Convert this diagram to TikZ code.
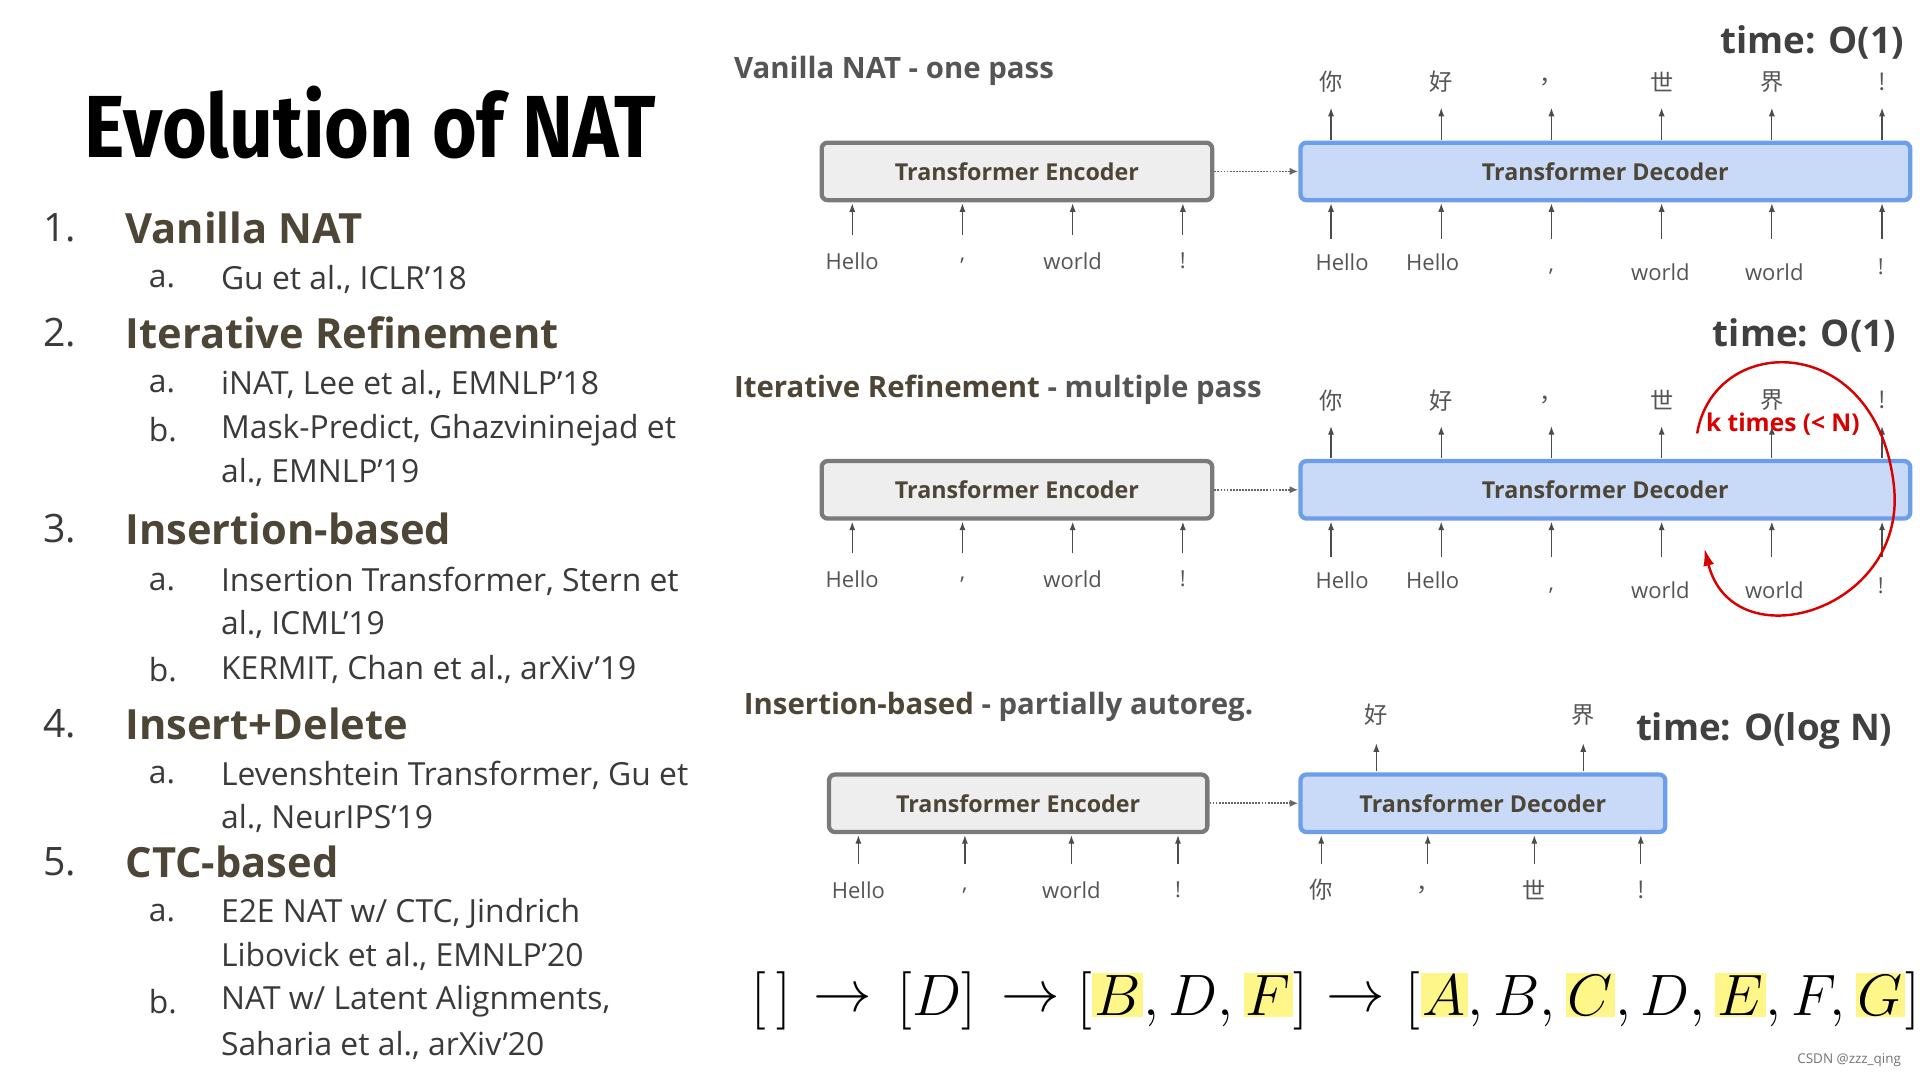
\documentclass[tikz,border=0pt]{standalone}
\usepackage{fontspec}
\setmainfont{Open Sans}
\newfontfamily\cjk{Noto Sans CJK SC}
\newfontfamily\titlef{Fira Sans}
\usetikzlibrary{arrows.meta}
\definecolor{headc}{HTML}{4D4535}
\definecolor{subc}{HTML}{3A3A3A}
\definecolor{grayt}{HTML}{555555}
\definecolor{encf}{HTML}{EEEEEE}
\definecolor{encd}{HTML}{7A7A7A}
\definecolor{decf}{HTML}{C9DAF8}
\definecolor{decd}{HTML}{6D9EEB}
\definecolor{hly}{HTML}{FFF68A}
\newcommand{\hlx}[1]{{\setlength{\fboxsep}{0.8pt}\colorbox{hly}{$#1$}}}
\begin{document}
\begin{tikzpicture}[x=1pt,y=-1pt,
  head/.style={anchor=west,font=\fontsize{34}{36}\selectfont\bfseries,text=headc},
  num/.style={anchor=west,font=\fontsize{32}{34}\selectfont,text=subc},
  sub/.style={anchor=west,font=\fontsize{26}{28}\selectfont,text=subc},
  enc/.style={draw=encd,fill=encf,line width=3.5pt,rounded corners=5pt,text=headc,font=\fontsize{19}{22}\selectfont\bfseries},
  dec/.style={draw=decd,fill=decf,line width=3.5pt,rounded corners=5pt,text=headc,font=\fontsize{19}{22}\selectfont\bfseries},
  lab/.style={font=\fontsize{18}{20}\selectfont,text=grayt},
  zh/.style={font=\cjk\fontsize{19}{20}\selectfont,text=grayt},
  arr/.style={-{Latex[length=7pt,width=5pt]},line width=1pt,draw=black!70},
  dots/.style={densely dotted,line width=1.5pt,draw=black!60,-{Latex[length=7pt,width=6pt]}},
  ptitle/.style={anchor=west,font=\fontsize{24}{26}\selectfont\bfseries,text=grayt},
  tm/.style={anchor=east,font=\fontsize{30}{32}\selectfont\bfseries,text=black!75},
  mth/.style={scale=2.3,font=\fontsize{20}{22}\selectfont}]
\useasboundingbox (0,0) rectangle (1568,880);
\fill[white] (0,0) rectangle (1568,880);
% left
\node[anchor=west,font=\titlef\fontsize{72}{74}\selectfont\bfseries,xscale=0.87] (title) at (66,100) {Evolution of NAT};
\foreach \n/\y/\t in {1/186/Vanilla NAT,2/272/Iterative Refinement,3/432/Insertion-based,4/591/Insert+Delete,5/704/CTC-based}{
  \node[num] (n\n) at (32,\y) {\n.};
  \node[head] (h\n) at (99,\y) {\t};}
\foreach \l/\y/\t [count=\i] in {a/228/{Gu et al., ICLR’18},a/314/{iNAT, Lee et al., EMNLP’18},b/351/{Mask-Predict, Ghazvininejad et},{}/386/{al., EMNLP’19},a/475/{Insertion Transformer, Stern et},{}/510/{al., ICML’19},b/547/{KERMIT, Chan et al., arXiv’19},a/633/{Levenshtein Transformer, Gu et},{}/668/{al., NeurIPS’19},a/746/{E2E NAT w/ CTC, Jindrich},{}/781/{Libovick et al., EMNLP’20},b/818/{NAT w/ Latent Alignments,},{}/854/{Saharia et al., arXiv’20}}{
  \node[sub] (s\i) at (177,\y) {\t};
  \node[sub] (l\i) at (118,\y) {\l\ifx\l\empty\else.\fi};}
% panel 1 and 2
\foreach \p/\dy in {1/0,2/260}{
  \node[enc,minimum width=319pt,minimum height=47pt] (enc\p) at (830.5,140+\dy) {Transformer Encoder};
  \node[dec,minimum width=498pt,minimum height=47pt] (dec\p) at (1311,140+\dy) {Transformer Decoder};
  \draw[dots] (enc\p.east) -- (dec\p.west);
  \foreach \x/\t [count=\k] in {696/Hello,786/{,},876/world,966/!}{
    \node[lab] (ei\p\k) at (\x,213+\dy) {\t};
    \draw[arr] (\x,192+\dy) -- (\x,166+\dy);}
  \foreach \x/\lx/\ly/\t [count=\k] in {1087/1096/214/Hello,1177/1170/214/Hello,1267/1267/222/{,},1357/1356/222/world,1447/1449/222/world,1537/1536/218/!}{
    \node[lab] (di\p\k) at (\lx,\ly+\dy) {\t};
    \draw[arr] (\x,195+\dy) -- (\x,166+\dy);}
  \foreach \x/\t [count=\k] in {1087/你,1177/好,1267/，,1357/世,1447/界,1537/!}{
    \node[zh] (do\p\k) at (\x,67+\dy) {\t};
    \draw[arr] (\x,114+\dy) -- (\x,88+\dy);}
}
\node[ptitle] (t1) at (596,58) {Vanilla NAT - one pass};
\node[tm] (tm1) at (1558,35) {time: O(1)};
\node[ptitle] (t2) at (596,318) {\textcolor{headc}{Iterative Refinement} - multiple pass};
\node[tm] (tm2) at (1552,274) {time: O(1)};
\coordinate (lp0) at (1386,354);
\coordinate (lp1) at (1392,448);
\draw[red!85!black,line width=2pt,-{Latex[length=14pt,width=9pt]}] (lp0) .. controls (1400,270) and (1535,270) .. (1547,400) .. controls (1555,500) and (1415,540) .. (lp1);
\node[font=\fontsize{20}{22}\selectfont\bfseries,text=red!85!black] (kt) at (1456,346) {k times (< N)};
% panel 3
\node[ptitle] (t3) at (604,577) {\textcolor{headc}{Insertion-based} - partially autoreg.};
\node[tm] (tm3) at (1549,597) {time: O(log N)};
\node[enc,minimum width=309pt,minimum height=47pt] (enc3) at (831.5,656) {Transformer Encoder};
\node[dec,minimum width=298pt,minimum height=47pt] (dec3) at (1211,656) {Transformer Decoder};
\draw[dots] (enc3.east) -- (dec3.west);
\foreach \x/\t [count=\k] in {701/Hello,788/{,},875/world,962/!}{
  \node[lab] (ei3\k) at (\x,727) {\t};
  \draw[arr] (\x,706) -- (\x,682);}
\foreach \x/\t [count=\k] in {1079/你,1166/，,1253/世,1340/!}{
  \node[zh] (di3\k) at (\x,727) {\t};
  \draw[arr] (\x,706) -- (\x,682);}
\foreach \x/\t [count=\k] in {1124/好,1293/界}{
  \node[zh] (do3\k) at (\x,584) {\t};
  \draw[arr] (\x,630) -- (\x,607);}
% math
\node[mth] (m1) at (630,817) {$[\,]$};
\node[mth] (a1) at (688,817) {$\rightarrow$};
\node[mth] (m2) at (765,817) {$[D]$};
\node[mth] (a2) at (842,817) {$\rightarrow$};
\node[mth] (m3) at (974,817) {$[\hlx{B},D,\hlx{F}]$};
\node[mth] (a3) at (1107,817) {$\rightarrow$};
\node[mth] (m4) at (1358,817) {$[\hlx{A},B,\hlx{C},D,\hlx{E},F,\hlx{G}]$};
\node[font=\fontsize{11}{12}\selectfont,text=black!55,anchor=east] (wm) at (1556,866) {CSDN @zzz\_qing};
\end{tikzpicture}
\end{document}
